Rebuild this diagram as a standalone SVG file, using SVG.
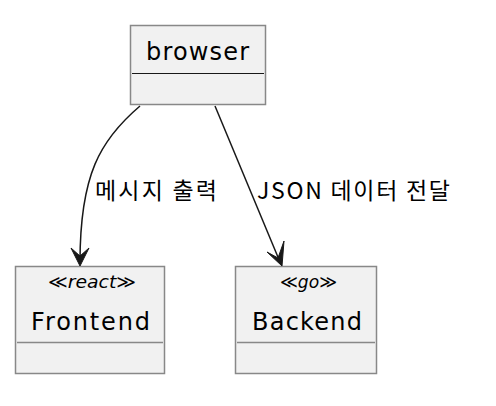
<svg xmlns="http://www.w3.org/2000/svg" width="496" height="406" viewBox="0 0 496 406">
<defs>
<style>
.box{fill:#F1F1F1;stroke:#888888;stroke-width:1.5}
.div{stroke:#888888;stroke-width:1.5}
.name{font-family:"DejaVu Sans",sans-serif;font-size:24px;fill:#000}
.st{font-family:"DejaVu Sans",sans-serif;font-size:18px;font-style:italic;fill:#000}
.lbl{font-family:"Noto Sans CJK KR","DejaVu Sans",sans-serif;font-size:23px;fill:#000}
.edge{fill:none;stroke:#181818;stroke-width:1.5}
.head{fill:#181818;stroke:#181818;stroke-width:1}
</style>
</defs>
<rect width="496" height="406" fill="#FFFFFF"/>
<g id="browser">
<rect class="box" x="130.5" y="25.5" width="135" height="79"/>
<line class="div" x1="132" y1="73.5" x2="264" y2="73.5" style="stroke:#181818;stroke-width:1"/>
<text class="name" x="146" y="60" textLength="103" lengthAdjust="spacing">browser</text>
</g>
<g id="Frontend">
<rect class="box" x="15.5" y="266.5" width="149" height="107"/>
<line class="div" x1="17" y1="342.5" x2="163" y2="342.5"/>
<text class="st" x="48" y="288" textLength="88" lengthAdjust="spacingAndGlyphs">≪react≫</text>
<text class="name" x="31" y="330" textLength="119" lengthAdjust="spacing">Frontend</text>
</g>
<g id="Backend">
<rect class="box" x="235.5" y="266.5" width="141" height="107"/>
<line class="div" x1="237" y1="342.5" x2="375" y2="342.5"/>
<text class="st" x="280" y="288" textLength="57" lengthAdjust="spacingAndGlyphs">≪go≫</text>
<text class="name" x="252" y="330" textLength="110" lengthAdjust="spacing">Backend</text>
</g>
<g id="connectors">
<path class="edge" d="M140,106 C100,140 80,175 80,262"/>
<polygon class="head" points="80,266 71,248 80,256 89,248"/>
<text class="lbl" x="95" y="199" textLength="122" lengthAdjust="spacing">메시지 출력</text>
<path class="edge" d="M215,106 L280,262"/>
<polygon class="head" points="282,266 267,252 278,258 284,241"/>
<text class="lbl" x="257" y="199" textLength="193" lengthAdjust="spacing">JSON 데이터 전달</text>
</g>
</svg>
